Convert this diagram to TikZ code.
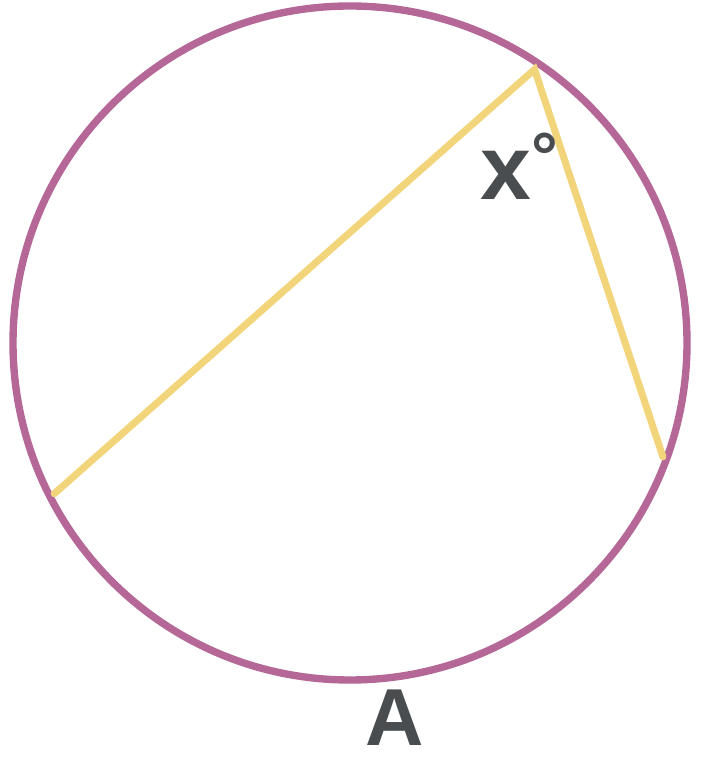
\documentclass[tikz,border=0pt]{standalone}
\usepackage{fontspec}
\setmainfont{Liberation Sans}
\usepackage{tikz}
\usetikzlibrary{calc}
\definecolor{rimpurple}{RGB}{181,104,152}
\definecolor{chordyellow}{RGB}{242,212,122}
\definecolor{inkgrey}{RGB}{74,77,79}
\tikzset{
    rim/.style={draw=rimpurple, line width=2.1pt},
    chord/.style={draw=chordyellow, line width=2pt, line cap=round},
    handlabel/.style={text=inkgrey, font=\bfseries\fontsize{26}{30}\selectfont, inner sep=0pt}
}

\begin{document}
\begin{tikzpicture}
        \useasboundingbox (0,0) rectangle (7,-7.57);
        % Circle
        \coordinate (O) at (3.50,-3.43);
        \draw[rim] (O) circle (3.37);
        
        % Points on the circle
        \coordinate (P) at ($(O)+(56:3.30)$);
        \coordinate (L) at ($(O)+(207:3.32)$);
        \coordinate (R) at ($(O)+(-20:3.33)$);
        
        % Inscribed angle
        \draw[chord] (L) -- (P) -- (R);
        \node[handlabel, anchor=base west] (angx) at (4.80,-2.00) {x\raisebox{0.22em}{\fontsize{19}{19}\selectfont °}};
        
        % Arc label
        \node[handlabel, font=\bfseries\fontsize{23}{27}\selectfont, anchor=base] (arcA) at (3.95,-7.45) {A};
    \end{tikzpicture}
\end{document}
